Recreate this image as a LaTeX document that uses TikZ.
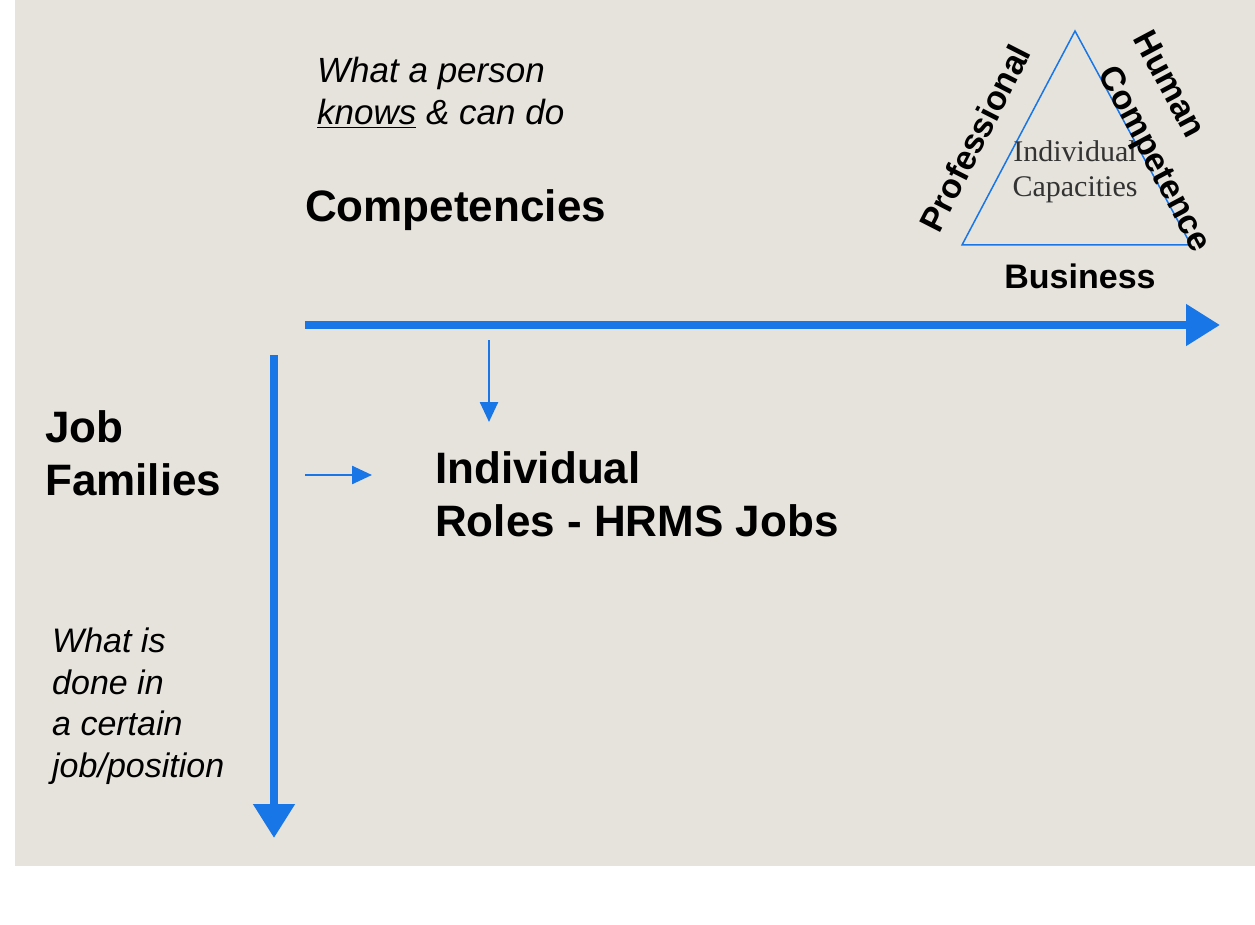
\documentclass[tikz,border=0pt]{standalone}
\usepackage{fontspec}
\setmainfont{Liberation Sans}
\newfontfamily\serifx{Liberation Serif}
\usetikzlibrary{arrows.meta}
\definecolor{bg}{RGB}{230,227,220}
\definecolor{ab}{RGB}{24,118,230}
\begin{document}
\begin{tikzpicture}[x=1pt,y=-1pt,
  it/.style={font=\fontsize{35}{42}\selectfont\itshape,align=left,anchor=base west,inner sep=0},
  bd/.style={font=\fontsize{44}{53}\selectfont\bfseries,align=left,anchor=base west,inner sep=0},
  tb/.style={font=\fontsize{34}{36}\selectfont\bfseries,inner sep=0},
  big/.style={draw=ab,line width=8pt,-{Triangle[length=34pt,width=40pt]}},
  small/.style={draw=ab,line width=2.5pt,-{Triangle[length=20pt,width=18pt]}}]
\useasboundingbox (0,0) rectangle (1255,925);
\fill[bg] (15,0) rectangle (1255,866);
\node[it] (wk) at (317,125) {What a person\\\underline{knows} \& can do};
\node[bd] (comp) at (305,222) {Competencies};
\node[bd] (jf) at (45,495) {Job\\Families};
\node[bd] (ir) at (435,536) {Individual\\Roles - HRMS Jobs};
\node[it,font=\fontsize{34}{41.5}\selectfont\itshape] (wd) at (52,777) {What is\\done in\\a certain\\job/position};
\coordinate (h1) at (305,325); \coordinate (h2) at (1220,325);
\coordinate (v1) at (274,355); \coordinate (v2) at (274,838);
\coordinate (s1) at (489,340); \coordinate (s2) at (489,422);
\coordinate (t1) at (305,475); \coordinate (t2) at (372,475);
\draw[big] (h1) -- (h2);
\draw[big] (v1) -- (v2);
\draw[small] (s1) -- (s2);
\draw[small] (t1) -- (t2);
\coordinate (A) at (1075,31); \coordinate (B) at (962,245); \coordinate (C) at (1191,245);
\draw[ab,line width=1.5pt] (A) -- (B) -- (C) -- cycle;
\node[font=\fontsize{30}{35}\selectfont\serifx,align=center,text=black!80] (ic) at (1075,172) {Individual\\Capacities};
\node[tb,rotate=63] (pr) at (975,138) {Professional};
\node[tb,rotate=-62] (hu) at (1170,84) {Human};
\node[tb,rotate=-62] (co) at (1153,160) {Competence};
\node[tb] (bu) at (1080,276) {Business};
\end{tikzpicture}
\end{document}
